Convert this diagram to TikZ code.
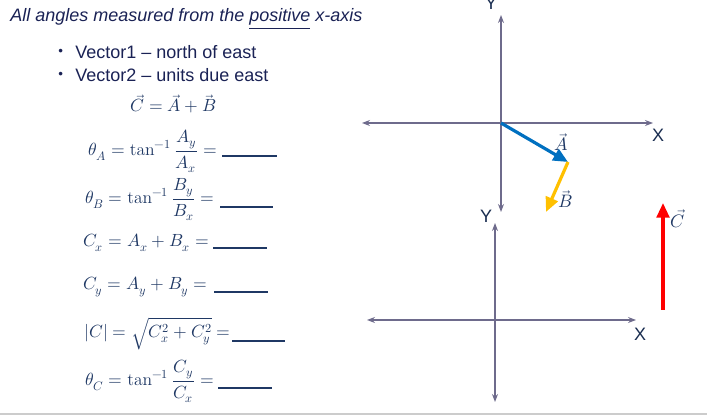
\documentclass[tikz,border=0pt]{standalone}
\usepackage{amsmath}
\usepackage{unicode-math}
\setmainfont{Liberation Sans}
\setmathfont{Latin Modern Math}
\setmathrm{Latin Modern Roman}
\usetikzlibrary{arrows.meta}
\definecolor{navy}{HTML}{1F3864}
\definecolor{titlec}{HTML}{1A2255}
\definecolor{axisc}{HTML}{6E6B8C}
\definecolor{vblue}{HTML}{0070C0}
\definecolor{vorange}{HTML}{FFC000}
\definecolor{vred}{HTML}{FF0000}
\tikzset{
  txt/.style={inner sep=0pt, text=titlec, font=\fontsize{13.5pt}{16pt}\selectfont},
  eq/.style={inner sep=0pt, anchor=base west, text=navy, font=\fontsize{13.2pt}{16pt}\selectfont},
  blank/.style={draw=navy, line width=0.8pt},
  axis/.style={draw=axisc, line width=0.9pt, {Stealth[length=6pt,width=4.5pt]}-{Stealth[length=6pt,width=4.5pt]}},
  axlbl/.style={inner sep=0pt, text=navy!80!black, font=\fontsize{13.5pt}{16pt}\selectfont},
  vlbl/.style={inner sep=0pt, text=navy, font=\fontsize{13.5pt}{16pt}\selectfont},
  vecarrow/.style={line width=2.4pt, -{Triangle[length=11pt,width=9.5pt]}}
}
\begin{document}
\begin{tikzpicture}[x=0.75pt,y=-0.75pt]
\useasboundingbox (0,0) rectangle (707,416);
% text
\node[txt, anchor=west] (title) at (10,19) {\itshape All angles measured from the \underline{positive} x-axis};
\node[txt, anchor=west, font=\fontsize{10pt}{12pt}\selectfont] (b1) at (58,52) {•};
\node[txt, anchor=west] (l1) at (75,52) {Vector1 – north of east};
\node[txt, anchor=west, font=\fontsize{10pt}{12pt}\selectfont] (b2) at (58,75) {•};
\node[txt, anchor=west] (l2) at (75,75) {Vector2 – units due east};
% equations
\node[eq] (e0) at (130,112) {$\vec{C} = \vec{A} + \vec{B}$};
\node[eq] (e1) at (88,156) {$\theta_A = \tan^{-1}\dfrac{A_y}{A_x} =$};
\node[eq] (e2) at (85,204) {$\theta_B = \tan^{-1}\dfrac{B_y}{B_x} =$};
\node[eq] (e3) at (83,247) {$C_x = A_x + B_x =$};
\node[eq] (e4) at (83,290) {$C_y = A_y + B_y =$};
\node[eq] (e5) at (84,338) {$|C| = \sqrt{C_x^2 + C_y^2} =$};
\node[eq] (e6) at (85,386) {$\theta_C = \tan^{-1}\dfrac{C_y}{C_x} =$};
\draw[blank] (222,156) -- (277,156);
\draw[blank] (220,207) -- (273,207);
\draw[blank] (213,248) -- (267,248);
\draw[blank] (214,292) -- (268,292);
\draw[blank] (232,341) -- (285,341);
\draw[blank] (218,388) -- (272,388);
% top axes
\coordinate (tyt) at (501,15);
\coordinate (tyb) at (501,212);
\coordinate (txl) at (362,123);
\coordinate (txr) at (653,123);
\draw[axis] (tyb) -- (tyt);
\draw[axis] (txl) -- (txr);
\node[axlbl] (tY) at (491,3) {Y};
\node[axlbl] (tX) at (658,135) {X};
% vectors
\coordinate (O) at (501,123);
\coordinate (Ae) at (568,162);
\coordinate (Be) at (546,212);
\draw[vecarrow, vblue] (O) -- (Ae);
\draw[vecarrow, vorange] (Ae) -- (Be);
\node[vlbl] (lA) at (561,142) {$\vec{A}$};
\node[vlbl] (lB) at (566,199) {$\vec{B}$};
\coordinate (Cs) at (663,310);
\coordinate (Ce) at (663,203);
\draw[vecarrow, vred] (Cs) -- (Ce);
\node[vlbl] (lC) at (678,219) {$\vec{C}$};
% bottom axes
\coordinate (byt) at (495,223);
\coordinate (byb) at (495,402);
\coordinate (bxl) at (367,320);
\coordinate (bxr) at (636,320);
\draw[axis] (byb) -- (byt);
\draw[axis] (bxl) -- (bxr);
\node[axlbl] (bY) at (486,216) {Y};
\node[axlbl] (bX) at (640,334) {X};
% bottom rule
\draw[draw=black!20, line width=1.5pt] (0,414.5) -- (707,414.5);
\end{tikzpicture}
\end{document}
